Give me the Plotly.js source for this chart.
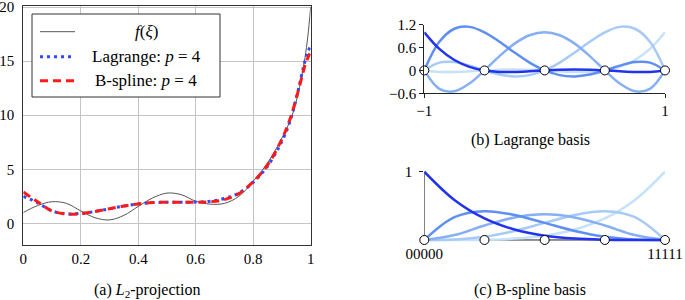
<!DOCTYPE html>
<html>
<head>
<meta charset="utf-8">
<script src="https://cdn.plot.ly/plotly-3.0.1.min.js"></script>
<style>html,body{margin:0;padding:0;background:#fff;font-family:'Liberation Serif';}#chart{width:685px;height:300px;}</style>
</head>
<body>
<div id="chart"></div>
<script>
// ---- (a) L2-projection ----
const xi = [0,0.05,0.1,0.15,0.2,0.25,0.3,0.35,0.4,0.45,0.5,0.55,0.6,0.65,0.7,0.75,0.8,0.85,0.9,0.93,0.95,0.97,0.98,0.99,1];
const fExact = [1.0,1.65,2.0,1.85,1.15,0.52,0.32,0.74,1.57,2.35,2.8,2.65,2.05,1.78,1.85,2.5,3.9,5.6,7.9,9.6,11.3,13.8,15.3,17.3,20];
const lagrangeFit = [2.5,1.9,1.15,0.88,0.92,1.1,1.35,1.6,1.8,1.92,1.95,1.95,1.97,2.05,2.3,2.8,3.8,5.3,7.6,9.6,11.6,13.9,15.0,15.8,16.5];
const bsplineFit = [2.9,2.0,1.15,0.86,0.9,1.1,1.35,1.6,1.8,1.92,1.95,1.95,1.95,2.0,2.2,2.75,3.85,5.4,7.8,9.8,11.6,13.6,14.6,15.3,15.9];
const xTicksA = [0,0.2,0.4,0.6,0.8,1];
const xTickTextA = ['0','0.2','0.4','0.6','0.8','1'];
const yTicksA = [0,5,10,15,20];

// ---- (b) Lagrange basis ----
const lagX = [-1,-0.875,-0.75,-0.625,-0.5,-0.375,-0.25,-0.125,0,0.125,0.25,0.375,0.5,0.625,0.75,0.875,1];
const lag0 = [1,0.564,0.273,0.095,0,-0.038,-0.039,-0.022,0,0.017,0.023,0.017,0,-0.022,-0.039,-0.038,0];
const lag1 = [0,0.752,1.094,1.143,1,0.752,0.469,0.205,0,-0.123,-0.156,-0.107,0,0.127,0.219,0.205,0];
const lag2 = [0,-0.483,-0.547,-0.343,0,0.376,0.703,0.923,1,0.923,0.703,0.376,0,-0.343,-0.547,-0.483,0];
const lag3 = [0,0.205,0.219,0.127,0,-0.107,-0.156,-0.123,0,0.205,0.469,0.752,1,1.143,1.094,0.752,0];
const lag4 = [0,-0.038,-0.039,-0.022,0,0.017,0.023,0.017,0,-0.022,-0.039,-0.038,0,0.095,0.273,0.564,1];
const lagNodes = [-1,-0.5,0,0.5,1];
const lagNodeVals = [0,0,0,0,0];
const lagYTicks = [-0.6,0,0.6,1.2];
const lagYTickText = ['\u22120.6','0','0.6','1.2'];
const lagXTicks = [-1,1];
const lagXTickText = ['\u22121','1'];

// ---- (c) B-spline basis ----
const bsX = [0,0.125,0.25,0.375,0.5,0.625,0.75,0.875,1];
const bs0 = [1,0.586,0.316,0.153,0.063,0.020,0.004,0.0,0];
const bs1 = [0,0.335,0.422,0.366,0.25,0.132,0.047,0.007,0];
const bs2 = [0,0.072,0.211,0.330,0.375,0.330,0.211,0.072,0];
const bs3 = [0,0.007,0.047,0.132,0.25,0.366,0.422,0.335,0];
const bs4 = [0,0.0,0.004,0.020,0.063,0.153,0.316,0.586,1];
const bsNodes = [0,0.25,0.5,0.75,1];
const bsNodeVals = [0,0,0,0,0];
const bsXTicks = [0,1];
const bsXTickText = ['00000','11111'];

const basisColors = ['#2233ee','#5f8ff1','#86b0f3','#a7caf6','#c6e1f9'];
const FONT = 'Liberation Serif';
const W = 685, H = 300;
const px = v => v / W;
const py = v => 1 - v / H;

const traces = [];
traces.push({x: xi, y: fExact, xaxis:'x', yaxis:'y', mode:'lines', line:{color:'#555', width:1, shape:'spline'}, showlegend:false});
traces.push({x: xi, y: lagrangeFit, xaxis:'x', yaxis:'y', mode:'lines', line:{color:'#2a4bff', width:3, dash:'3px,4px', shape:'spline'}, showlegend:false});
traces.push({x: xi, y: bsplineFit, xaxis:'x', yaxis:'y', mode:'lines', line:{color:'#ff1a1a', width:3, dash:'8px,5px', shape:'spline'}, showlegend:false});

const lagSets = [lag0, lag1, lag2, lag3, lag4];
for (let i = 4; i >= 0; i--) {
  traces.push({x: lagX, y: lagSets[i], xaxis:'x2', yaxis:'y2', mode:'lines', line:{color:basisColors[i], width:2.5, shape:'spline'}, showlegend:false});
}
traces.push({x: lagNodes, y: lagNodeVals, xaxis:'x2', yaxis:'y2', mode:'markers', cliponaxis:false,
  marker:{size:9, color:'#fff', line:{color:'#000', width:1}}, showlegend:false});

const bsSets = [bs0, bs1, bs2, bs3, bs4];
for (let i = 4; i >= 0; i--) {
  traces.push({x: bsX, y: bsSets[i], xaxis:'x3', yaxis:'y3', mode:'lines', line:{color:basisColors[i], width:2.5, shape:'spline'}, showlegend:false});
}
traces.push({x: bsNodes, y: bsNodeVals, xaxis:'x3', yaxis:'y3', mode:'markers', cliponaxis:false,
  marker:{size:9, color:'#fff', line:{color:'#000', width:1}}, showlegend:false});

const tickFont = {family: FONT, size: 15, color: '#000'};

const layout = {
  width: W, height: H,
  margin: {l:0, r:0, t:0, b:0},
  paper_bgcolor: '#fff', plot_bgcolor: 'rgba(0,0,0,0)',
  showlegend: false,
  xaxis: {domain:[px(23.3), px(310.7)], range:[0,1], anchor:'y',
    tickvals: xTicksA, ticktext: xTickTextA, showgrid:true, gridcolor:'#c4c4c4', gridwidth:1,
    zeroline:false, showline:true, mirror:true, linecolor:'#333', linewidth:1, ticks:'', ticklen:0,
    tickfont: tickFont, ticklabelstandoff: 0},
  yaxis: {domain:[py(245), py(6)], range:[-2, 20.1], anchor:'x',
    tickvals: yTicksA, showgrid:true, gridcolor:'#c4c4c4', gridwidth:1,
    zeroline:false, showline:true, mirror:true, linecolor:'#333', linewidth:1, ticks:'',
    tickfont: tickFont, ticklabelstandoff: 5, ticklabeloverflow:'allow'},
  xaxis2: {domain:[px(424.3), px(665)], range:[-1,1], anchor:'y2',
    tickvals: lagXTicks, ticktext: lagXTickText, showgrid:false, zeroline:false,
    showline:true, linecolor:'#222', linewidth:1, ticks:'outside', ticklen:4, tickcolor:'#222',
    tickfont: tickFont, ticklabelstandoff: 0},
  yaxis2: {domain:[py(93.3), py(24.7)], range:[-0.6,1.2], anchor:'x2',
    tickvals: lagYTicks, ticktext: lagYTickText, showgrid:false, zeroline:false,
    showline:true, linecolor:'#222', linewidth:1, ticks:'outside', ticklen:4, tickcolor:'#222',
    tickfont: tickFont, ticklabeloverflow:'allow'},
  xaxis3: {domain:[px(424.3), px(665)], range:[0,1], anchor:'y3',
    tickvals: bsXTicks, ticktext: bsXTickText, showgrid:false, zeroline:false,
    showline:false, ticks:'', ticklen:0, tickfont: tickFont, ticklabelstandoff: 0},
  yaxis3: {domain:[py(243.4), py(170.3)], range:[-0.05,1.02], anchor:'x3',
    tickvals:[1], ticktext:['1'], showgrid:false, zeroline:false, showline:false,
    ticks:'outside', ticklen:4, tickcolor:'#222', tickfont: tickFont, ticklabelstandoff: 4},
  shapes: [
    {type:'line', xref:'x3', yref:'y3', x0:0, x1:0, y0:0, y1:1, line:{color:'#222', width:1}, layer:'below'},
    {type:'line', xref:'x3', yref:'y3', x0:0, x1:1, y0:0, y1:0, line:{color:'#222', width:1}, layer:'below'},
    // legend box and samples
    {type:'rect', xref:'paper', yref:'paper', x0:px(32), x1:px(220), y0:py(97), y1:py(14), line:{color:'#333', width:1}, fillcolor:'#fff'},
    {type:'line', xref:'paper', yref:'paper', x0:px(40), x1:px(75), y0:py(31.7), y1:py(31.7), line:{color:'#555', width:1}},
    {type:'line', xref:'paper', yref:'paper', x0:px(40), x1:px(75), y0:py(56.7), y1:py(56.7), line:{color:'#2a4bff', width:3, dash:'3px,4px'}},
    {type:'line', xref:'paper', yref:'paper', x0:px(40), x1:px(75), y0:py(80.7), y1:py(80.7), line:{color:'#ff1a1a', width:3, dash:'8px,5px'}}
  ],
  annotations: [
    {xref:'paper', yref:'paper', x:px(146), y:py(31.7), text:'<i>f</i>(<i>ξ</i>)', showarrow:false, xanchor:'center', yanchor:'middle', font:{family:FONT, size:17, color:'#000'}},
    {xref:'paper', yref:'paper', x:px(146), y:py(56.7), text:'Lagrange: <i>p</i> = 4', showarrow:false, xanchor:'center', yanchor:'middle', font:{family:FONT, size:17, color:'#000'}},
    {xref:'paper', yref:'paper', x:px(146), y:py(80.7), text:'B-spline: <i>p</i> = 4', showarrow:false, xanchor:'center', yanchor:'middle', font:{family:FONT, size:17, color:'#000'}},
    {xref:'paper', yref:'paper', x:px(147), y:py(290), text:'(a) <i>L</i><sub>2</sub>-projection', showarrow:false, xanchor:'center', yanchor:'middle', font:{family:FONT, size:16, color:'#000'}},
    {xref:'paper', yref:'paper', x:px(530), y:py(140), text:'(b) Lagrange basis', showarrow:false, xanchor:'center', yanchor:'middle', font:{family:FONT, size:16, color:'#000'}},
    {xref:'paper', yref:'paper', x:px(530), y:py(290), text:'(c) B-spline basis', showarrow:false, xanchor:'center', yanchor:'middle', font:{family:FONT, size:16, color:'#000'}}
  ]
};

Plotly.newPlot('chart', traces, layout, {displayModeBar:false, staticPlot:true});
</script>
</body>
</html>
